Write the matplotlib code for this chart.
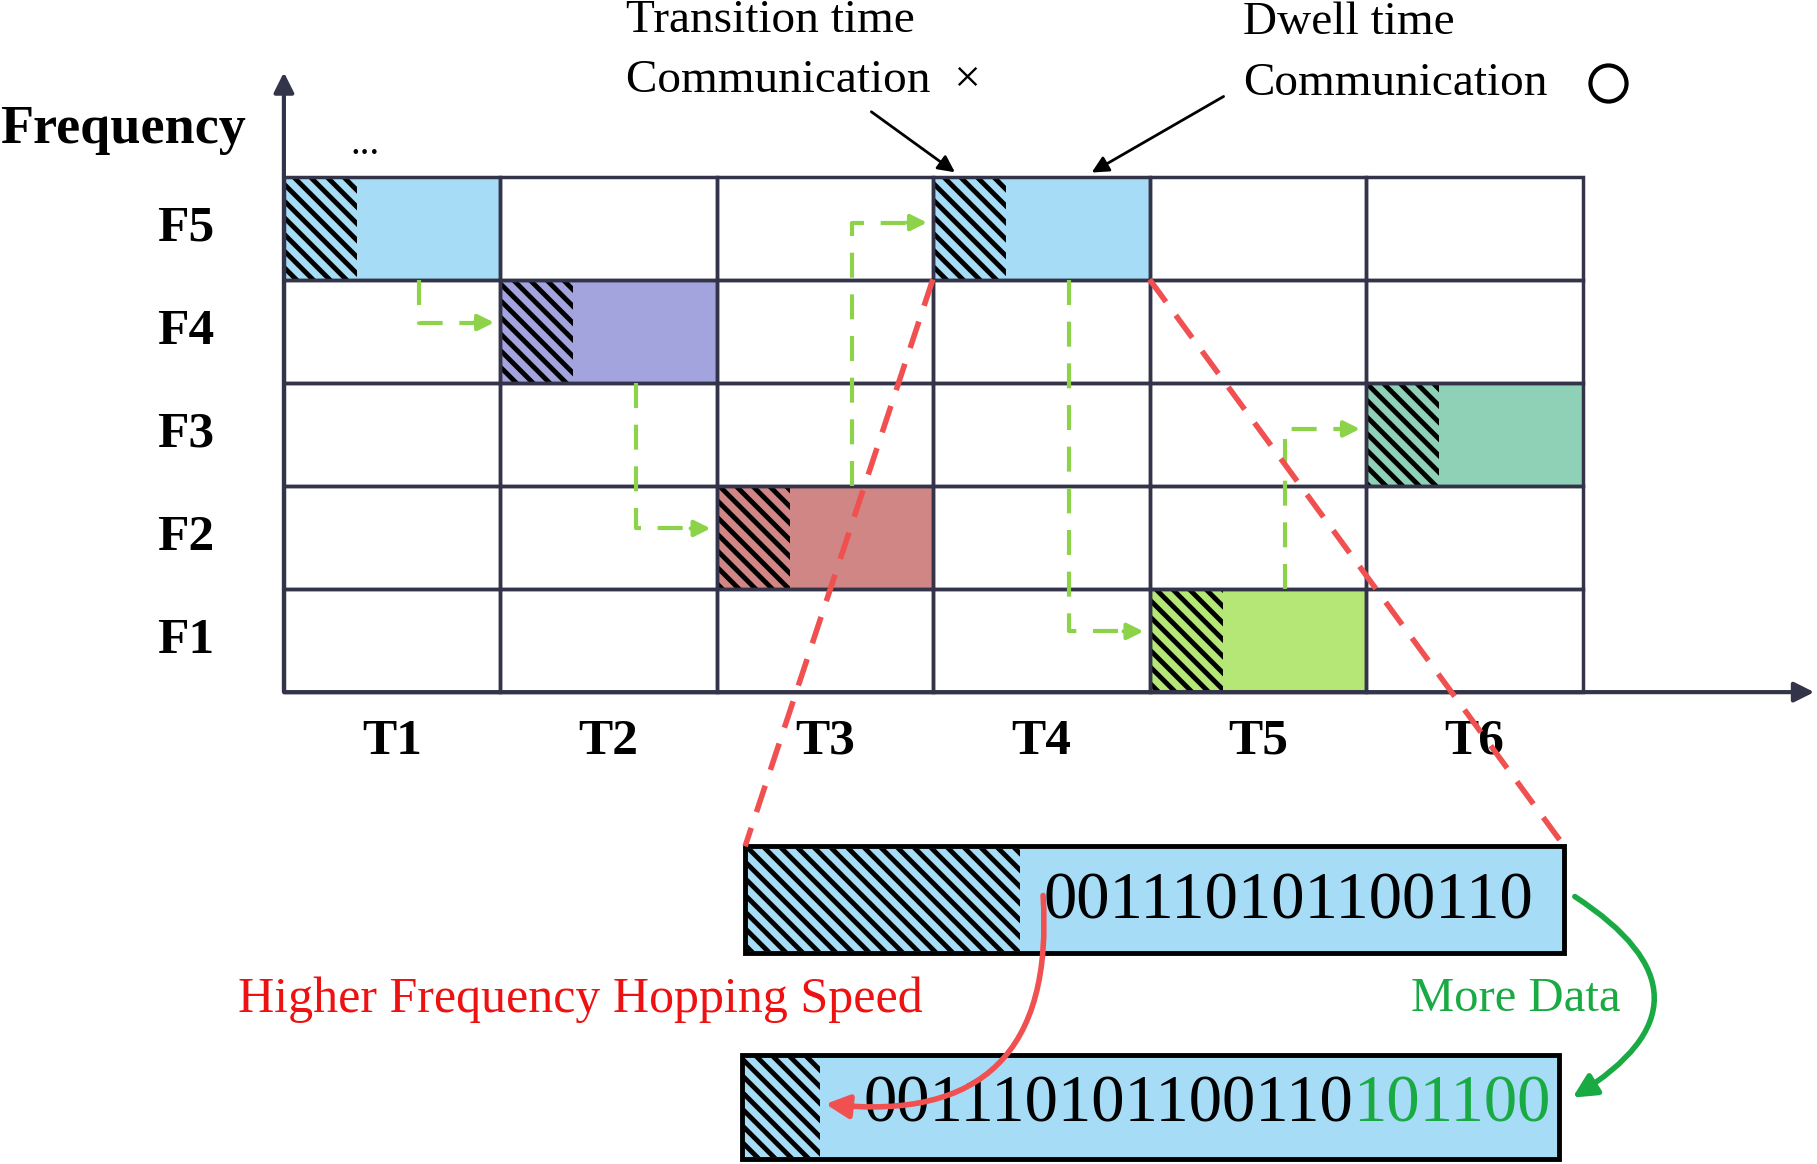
import matplotlib
matplotlib.use("Agg")
import matplotlib.pyplot as plt
from matplotlib.patches import Rectangle, FancyArrowPatch

# data
times = ["T1", "T2", "T3", "T4", "T5", "T6"]
freqs = ["F1", "F2", "F3", "F4", "F5"]
hops = [("T1", "F5"), ("T2", "F4"), ("T3", "F2"), ("T4", "F5"), ("T5", "F1"), ("T6", "F3")]
hop_colors = ["#a6dcf5", "#a3a3de", "#cf8684", "#a6dcf5", "#b4e775", "#8fd1b6"]
bits_old = "001110101100110"
bits_extra = "101100"

plt.rcParams['font.family'] = ['Liberation Serif', 'DejaVu Serif']
plt.rcParams['hatch.linewidth'] = 3.5
fig = plt.figure(figsize=(18.17, 11.64), dpi=100)
ax = fig.add_axes([0, 0, 1, 1])
ax.set_xlim(0, 1568); ax.set_ylim(1004, 0); ax.axis('off')

x0, cw = 245, 186.8
y_top, rh = 153, 88.8
def cx(i): return x0 + i * cw
def ry(j): return y_top + (4 - j) * rh  # top of row for freq index j (0=F1)

grid = "#33334a"
for i in range(6):
    for j in range(5):
        ax.add_patch(Rectangle((cx(i), ry(j)), cw, rh, fill=False, ec=grid, lw=2.5, zorder=3))
for k, (t, f) in enumerate(hops):
    i, j = times.index(t), freqs.index(f)
    ax.add_patch(Rectangle((cx(i), ry(j)), cw, rh, fc=hop_colors[k], ec='none', zorder=1))
    ax.add_patch(Rectangle((cx(i), ry(j)), 63, rh, fc='none', ec='black', lw=0, hatch='\\\\', zorder=2))

# axes arrows
ax.annotate("", xy=(245, 60), xytext=(245, 599), arrowprops=dict(arrowstyle='-|>', color=grid, lw=3, mutation_scale=30))
ax.annotate("", xy=(1568, 597), xytext=(243, 597), arrowprops=dict(arrowstyle='-|>', color=grid, lw=3, mutation_scale=30))

for j, f in enumerate(freqs):
    ax.text(160, ry(j) + rh / 2, f, fontsize=37, fontweight='bold', ha='center', va='center')
for i, t in enumerate(times):
    ax.text(cx(i) + cw / 2, 640, t, fontsize=37, fontweight='bold', ha='center', va='center')
ax.text(0, 112, "Frequency", fontsize=39, fontweight='bold', ha='left', va='center')
ax.text(315, 125, "...", fontsize=28, ha='center', va='center')

# green dashed hop paths
g = "#8dd34a"
for k in range(5):
    i0 = k
    j0 = freqs.index(hops[k][1]); j1 = freqs.index(hops[k + 1][1])
    xv = cx(i0) + 117
    ystart = ry(j0) + rh if j1 < j0 else ry(j0)
    yend = ry(j1) + rh / 2 + (-8 if j1 < j0 else -5)
    if k == 2: ystart = ry(j0); yend = 192
    ax.plot([xv, xv, cx(i0 + 1) - 15], [ystart, yend, yend], color=g, lw=3, ls=(0, (6, 4)), zorder=4)
    ax.annotate("", xy=(cx(i0 + 1) - 3, yend), xytext=(cx(i0 + 1) - 25, yend),
                arrowprops=dict(arrowstyle='-|>', color=g, lw=3, mutation_scale=24), zorder=4)

# red dashed zoom lines
ax.plot([805, 643], [241, 730], color="#f05050", lw=4, ls=(0, (5, 3)), zorder=5)
ax.plot([992, 1350], [241, 730], color="#f05050", lw=4, ls=(0, (5, 3)), zorder=5)

# boxes
ax.add_patch(Rectangle((643, 730), 707, 92, fc="#a6dcf5", ec='black', lw=3.5, zorder=3))
ax.add_patch(Rectangle((645, 732), 235, 88, fc='none', ec='black', lw=0, hatch='\\\\', zorder=4))
ax.text(1112, 778, bits_old, fontsize=48, ha='center', va='center', zorder=5)
ax.add_patch(Rectangle((640, 910), 705, 90, fc="#a6dcf5", ec='black', lw=3.5, zorder=3))
ax.add_patch(Rectangle((642, 912), 66, 86, fc='none', ec='black', lw=0, hatch='\\\\', zorder=4))
t1 = ax.text(745, 953, bits_old, fontsize=48, ha='left', va='center', zorder=5)
fig.canvas.draw()
bb = t1.get_window_extent()
xe = ax.transData.inverted().transform((bb.x1, bb.y0))[0]
ax.text(xe, 953, bits_extra, fontsize=48, ha='left', va='center', color="#1aaa44", zorder=5)

# annotations
ax.text(540, 18, "Transition time", fontsize=34, ha='left', va='center')
ax.text(540, 70, "Communication  \u00d7", fontsize=34, ha='left', va='center')
ax.text(1073, 20, "Dwell time", fontsize=34, ha='left', va='center')
ax.text(1073, 72, "Communication", fontsize=34, ha='left', va='center')
ax.plot([1388], [72], marker='o', ms=26, mfc='none', mec='black', mew=3)
ax.annotate("", xy=(826, 150), xytext=(750, 95), arrowprops=dict(arrowstyle='-|>', color='black', lw=2, mutation_scale=25))
ax.annotate("", xy=(940, 150), xytext=(1058, 82), arrowprops=dict(arrowstyle='-|>', color='black', lw=2, mutation_scale=25))

ax.add_patch(FancyArrowPatch((900, 770), (710, 952), connectionstyle="arc3,rad=-0.6",
                             arrowstyle='-|>', mutation_scale=35, color="#f05050", lw=4, zorder=6))
ax.add_patch(FancyArrowPatch((1357, 772), (1355, 948), connectionstyle="arc3,rad=-0.8",
                             arrowstyle='-|>', mutation_scale=35, color="#1aaa44", lw=4, zorder=6))
ax.text(205, 862, "Higher Frequency Hopping Speed", fontsize=36, color="#ee1111", ha='left', va='center')
ax.text(1218, 862, "More Data", fontsize=35, color="#1aaa44", ha='left', va='center')

fig.savefig("out.png", dpi=100)
